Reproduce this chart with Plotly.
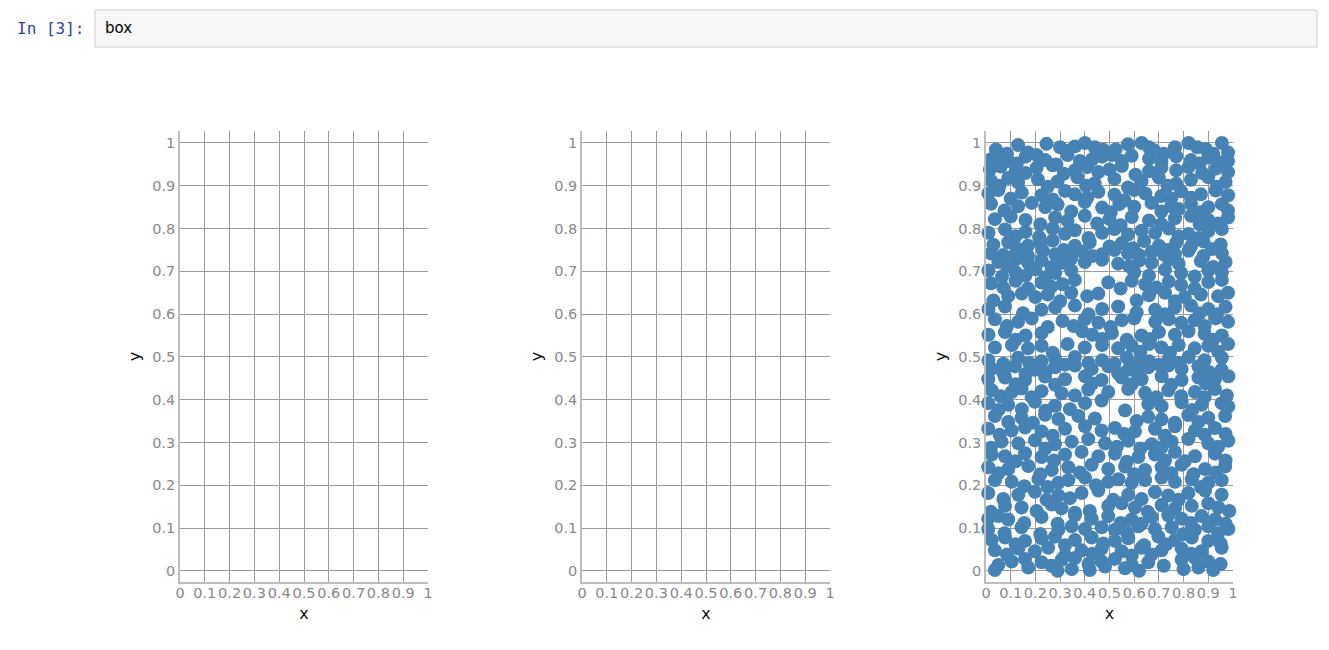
import plotly.graph_objects as go

bg_color = "#FFFFFF"
grid_color = "#9A9A9A"
axis_color = "#BDBDBD"
tick_color = "#888888"
dot_color = "#4682B4"

# page is drawn inside the default 8px body margin
fig_w = 1313
fig_h = 634

tick_vals = [0, 0.1, 0.2, 0.3, 0.4, 0.5, 0.6, 0.7, 0.8, 0.9, 1]
tick_text = ["0", "0.1", "0.2", "0.3", "0.4", "0.5", "0.6", "0.7", "0.8", "0.9", "1"]

# points of the third panel
points = [
    (.04, .985), (.13, .995), (.17, .978), (.245, .998), (.30, .99), (.33, .982), (.36, .992), (.40, 1.0), (.475, .984),
    (.575, .997), (.63, 1.0), (.66, .99), (.68, .983), (.765, .99), (.82, 1.0), (.89, .986), (.955, 1.0), (.98, .978),
    (.02, .962), (.05, .97), (.09, .958), (.16, .968), (.24, .96), (.33, .972), (.43, .962), (.47, .968), (.55, .958),
    (.59, .97), (.66, .963), (.71, .957), (.77, .969), (.83, .96), (.90, .966), (.95, .955),
    (.016, .938), (.06, .945), (.12, .935), (.205, .942), (.27, .948), (.36, .936), (.41, .944), (.50, .938),
    (.55, .946), (.66, .934), (.71, .942), (.77, .936), (.82, .944), (.93, .94), (.98, .932),
    (.02, .912), (.09, .918), (.13, .908), (.21, .915), (.29, .91), (.37, .92), (.44, .906), (.52, .916),
    (.63, .911), (.70, .919), (.77, .905), (.83, .914), (.90, .92), (.97, .909),
    (.01, .882), (.05, .89), (.145, .884), (.225, .878), (.32, .888), (.36, .88), (.455, .886), (.52, .879),
    (.60, .89), (.645, .882), (.71, .876), (.79, .887), (.87, .88), (.93, .889), (.98, .878),
    (.02, .858), (.13, .852), (.185, .86), (.24, .85), (.29, .856), (.40, .862), (.47, .849), (.54, .857),
    (.60, .851), (.67, .86), (.75, .852), (.78, .846), (.83, .858), (.90, .85), (.955, .857),
    (.036, .822), (.10, .828), (.16, .82), (.28, .826), (.33, .818), (.40, .83), (.50, .822), (.59, .827),
    (.66, .819), (.765, .824), (.83, .83), (.90, .82), (.98, .826),
    (.01, .79), (.077, .798), (.16, .792), (.27, .8), (.32, .788), (.36, .796), (.47, .79), (.52, .799),
    (.575, .786), (.63, .795), (.685, .79), (.74, .8), (.82, .787), (.90, .794), (.955, .799),
    (.03, .762), (.09, .768), (.17, .76), (.22, .766), (.27, .772), (.36, .76), (.42, .768), (.50, .758),
    (.55, .766), (.64, .771), (.70, .76), (.77, .767), (.83, .758), (.88, .77), (.95, .763),
    (.02, .742), (.23, .748), (.28, .74), (.39, .746), (.47, .74), (.52, .75), (.575, .742), (.67, .745),
    (.765, .74), (.82, .748), (.955, .742),
    (.05, .722), (.12, .728), (.17, .72), (.225, .726), (.31, .72), (.345, .73), (.40, .722), (.47, .727),
    (.535, .718), (.62, .725), (.67, .72), (.74, .728), (.78, .718), (.87, .724), (.97, .722),
    (.01, .702), (.12, .698), (.20, .705), (.28, .696), (.345, .702), (.60, .698), (.725, .704), (.79, .696),
    (.90, .702), (.955, .697),
    (.02, .672), (.12, .678), (.225, .674), (.31, .67), (.36, .68), (.495, .674), (.59, .678), (.645, .67),
    (.74, .676), (.79, .668), (.90, .675), (.955, .68),
    (.09, .642), (.145, .648), (.20, .64), (.25, .646), (.345, .65), (.41, .642), (.455, .648), (.66, .644),
    (.725, .65), (.805, .64), (.87, .646), (.94, .642), (.98, .65),
    (.01, .612), (.077, .618), (.225, .61), (.28, .616), (.36, .62), (.47, .612), (.535, .618), (.685, .61),
    (.765, .616), (.83, .62), (.90, .612), (.97, .617),
    (.036, .588), (.13, .582), (.185, .59), (.31, .584), (.40, .588), (.455, .58), (.55, .586), (.60, .59),
    (.685, .582), (.74, .588), (.79, .58), (.845, .586), (.93, .59), (.98, .582),
    (.01, .552), (.077, .558), (.16, .55), (.225, .556), (.39, .56), (.43, .552), (.51, .556), (.63, .55),
    (.70, .558), (.765, .552), (.82, .56), (.885, .554), (.955, .55),
    (.036, .522), (.105, .528), (.17, .52), (.225, .526), (.33, .53), (.40, .522), (.47, .528), (.535, .52),
    (.59, .526), (.66, .53), (.71, .522), (.78, .528), (.845, .52), (.90, .526), (.98, .53),
    (.01, .492), (.13, .498), (.225, .49), (.28, .496), (.36, .5), (.47, .492), (.57, .498), (.66, .49),
    (.74, .496), (.82, .5), (.885, .492), (.955, .498),
    (.023, .472), (.117, .478), (.198, .47), (.279, .476), (.36, .48), (.428, .472), (.495, .478), (.576, .47),
    (.657, .476), (.738, .48), (.792, .472), (.86, .478), (.954, .47),
    (.009, .448), (.077, .452), (.158, .446), (.239, .454), (.32, .448), (.401, .455), (.468, .446), (.549, .452),
    (.63, .448), (.711, .455), (.792, .446), (.86, .452), (.927, .448), (.981, .455),
    (.023, .422), (.104, .418), (.144, .426), (.225, .42), (.306, .415), (.414, .424), (.495, .418), (.576, .425),
    (.644, .416), (.738, .422), (.846, .418), (.927, .425),
    (.009, .392), (.09, .388), (.198, .395), (.279, .386), (.401, .392), (.468, .398), (.563, .375), (.657, .39),
    (.711, .385), (.792, .394), (.873, .388), (.954, .392), (.981, .384),
    (.036, .362), (.144, .358), (.239, .365), (.293, .355), (.374, .362), (.441, .356), (.657, .36), (.711, .354),
    (.819, .364), (.90, .358), (.968, .362),
    (.009, .332), (.104, .328), (.158, .335), (.225, .326), (.32, .332), (.401, .338), (.468, .328), (.522, .334),
    (.603, .326), (.684, .332), (.765, .338), (.846, .328), (.927, .334),
    (.063, .302), (.131, .298), (.198, .305), (.279, .296), (.347, .302), (.414, .308), (.482, .298), (.576, .304),
    (.671, .296), (.752, .302), (.819, .308), (.90, .298), (.981, .304),
    (.023, .272), (.077, .268), (.158, .275), (.225, .266), (.32, .272), (.387, .278), (.455, .268), (.522, .274),
    (.617, .266), (.684, .272), (.765, .278), (.846, .268), (.927, .274),
    (.009, .242), (.09, .238), (.171, .245), (.266, .236), (.333, .242), (.428, .248), (.495, .238), (.563, .244),
    (.644, .236), (.711, .242), (.792, .248), (.887, .238), (.968, .244),
    (.036, .212), (.104, .208), (.212, .215), (.293, .206), (.333, .212), (.401, .218), (.495, .208), (.536, .214),
    (.59, .206), (.644, .212), (.711, .218), (.765, .208), (.833, .214), (.90, .206), (.954, .212),
    (.009, .182), (.131, .178), (.198, .185), (.293, .176), (.387, .182), (.455, .188), (.576, .178), (.684, .184),
    (.738, .176), (.819, .182), (.887, .188), (.954, .178),
    (.077, .152), (.144, .148), (.266, .155), (.306, .146), (.495, .152), (.549, .158), (.603, .148), (.711, .154),
    (.765, .146), (.833, .152), (.90, .158), (.941, .148),
    (.009, .122), (.05, .128), (.09, .12), (.225, .126), (.36, .13), (.428, .122), (.495, .128), (.59, .12),
    (.671, .126), (.738, .13), (.792, .122), (.873, .128), (.927, .12),
    (.009, .098), (.144, .102), (.293, .096), (.347, .104), (.401, .098), (.468, .102), (.522, .096), (.617, .104),
    (.684, .098), (.752, .102), (.846, .096), (.90, .104), (.981, .098),
    (.023, .072), (.077, .078), (.158, .07), (.225, .076), (.279, .08), (.36, .072), (.428, .078), (.522, .07),
    (.576, .076), (.698, .08), (.765, .072), (.833, .078), (.90, .07),
    (.036, .048), (.131, .052), (.198, .046), (.252, .054), (.387, .048), (.468, .052), (.549, .046), (.63, .054),
    (.711, .048), (.792, .052), (.873, .046), (.954, .054),
    (.104, .022), (.158, .028), (.225, .02), (.306, .026), (.36, .03), (.468, .022), (.522, .028), (.657, .02),
    (.792, .026), (.846, .03), (.90, .022),
    (.036, .002), (.171, .008), (.347, .004), (.482, .01), (.563, .006), (.86, .008),
]

# further points that sit in the gaps between the rows above
points_fill = [
    (.085, .975), (.205, .972), (.44, .99), (.525, .985), (.72, .975), (.855, .99), (.92, .975),
    (.125, .952), (.285, .95), (.38, .958), (.51, .972), (.865, .952), (.98, .958),
    (.16, .93), (.315, .928), (.455, .932), (.605, .926), (.875, .93),
    (.055, .9), (.25, .898), (.405, .9), (.575, .896), (.735, .9), (.935, .898),
    (.10, .87), (.27, .868), (.41, .872), (.56, .866), (.75, .87), (.83, .872),
    (.075, .842), (.345, .84), (.505, .838), (.71, .84), (.865, .838), (.98, .842),
    (.22, .81), (.45, .812), (.545, .808), (.71, .81), (.865, .81), (.94, .812),
    (.12, .782), (.215, .78), (.415, .778), (.78, .782), (.86, .778),
    (.13, .752), (.315, .75), (.595, .754), (.735, .75), (.915, .752),
    (.07, .738), (.12, .742), (.17, .736), (.335, .74), (.43, .736), (.62, .738), (.72, .74), (.88, .736),
    (.085, .712), (.265, .71), (.58, .712), (.92, .71),
    (.065, .688), (.16, .69), (.24, .686), (.66, .69), (.845, .688),
    (.07, .662), (.17, .66), (.265, .664), (.545, .66), (.69, .662), (.845, .66),
    (.03, .632), (.30, .63), (.61, .632), (.765, .63),
    (.15, .602), (.415, .6), (.61, .604), (.725, .6), (.865, .602), (.935, .6),
    (.085, .572), (.25, .57), (.355, .572), (.505, .57), (.885, .572),
    (.12, .54), (.47, .542), (.57, .54), (.665, .542), (.92, .54),
    (.27, .51), (.625, .512), (.745, .51), (.94, .512),
    (.07, .484), (.175, .486), (.32, .482), (.415, .486), (.52, .484), (.615, .486), (.70, .482), (.78, .486),
    (.07, .462), (.16, .46), (.24, .464), (.535, .462), (.615, .46), (.905, .464),
    (.12, .436), (.28, .435), (.43, .438), (.59, .436), (.75, .435), (.89, .438),
    (.06, .408), (.185, .406), (.36, .41), (.69, .406), (.79, .408), (.885, .406), (.975, .41),
    (.05, .376), (.145, .378), (.24, .374), (.34, .378), (.835, .376),
    (.09, .348), (.19, .346), (.61, .35), (.765, .346), (.86, .348),
    (.055, .318), (.27, .316), (.56, .32), (.725, .316), (.885, .318), (.97, .32),
    (.02, .288), (.24, .286), (.53, .29), (.625, .286), (.71, .288), (.94, .29),
    (.12, .256), (.275, .258), (.57, .255), (.725, .258), (.805, .256), (.97, .258),
    (.05, .228), (.22, .226), (.38, .23), (.60, .226), (.75, .228), (.84, .226), (.93, .23),
    (.155, .198), (.25, .196), (.445, .2), (.87, .196),
    (.07, .168), (.245, .166), (.34, .17), (.515, .166), (.63, .168), (.78, .166),
    (.02, .138), (.205, .14), (.36, .136), (.42, .14), (.655, .138), (.985, .14),
    (.155, .112), (.29, .11), (.545, .112), (.63, .11), (.83, .112), (.97, .11),
    (.075, .088), (.22, .086), (.57, .09), (.80, .086), (.94, .088),
    (.12, .062), (.32, .06), (.475, .064), (.64, .06), (.73, .062), (.95, .064),
    (.085, .038), (.32, .036), (.43, .04), (.59, .036), (.67, .038), (.83, .04),
    (.05, .014), (.265, .012), (.415, .016), (.59, .014), (.72, .012), (.95, .016),
    (.29, .0), (.42, .002), (.62, .0), (.80, .004), (.92, .002),
]

scatter_x = [p[0] for p in points + points_fill]
scatter_y = [p[1] for p in points + points_fill]

# panel domains, in page pixels (left, right)
panels = [(180, 428), (582, 830), (986, 1233)]
panel_top = 131
panel_bottom = 582


def px_x(px):
    return (px - 8) / fig_w


def px_y(py):
    return 1 - (py - 8) / fig_h


def x_axis(domain, anchor):
    return dict(
        domain=domain,
        anchor=anchor,
        range=[0, 1],
        tickvals=tick_vals,
        ticktext=tick_text,
        tickangle=0,
        ticks="",
        ticklabelstandoff=-3,
        showgrid=True,
        gridcolor=grid_color,
        gridwidth=1,
        zeroline=False,
        showline=True,
        linecolor=axis_color,
        linewidth=1.5,
        tickfont=dict(color=tick_color, size=14.5),
        title=dict(text="x", standoff=8, font=dict(color="#111111", size=16)),
        automargin=False,
        fixedrange=True,
    )


def y_axis(anchor):
    return dict(
        domain=[px_y(panel_bottom), px_y(panel_top)],
        anchor=anchor,
        range=[-0.026, 1.028],
        tickvals=tick_vals,
        ticktext=tick_text,
        ticks="",
        showgrid=True,
        gridcolor=grid_color,
        gridwidth=1,
        zeroline=False,
        showline=True,
        linecolor=axis_color,
        linewidth=1.5,
        tickfont=dict(color=tick_color, size=14.5),
        title=dict(text="y", standoff=8, font=dict(color="#111111", size=16)),
        automargin=False,
        fixedrange=True,
    )


fig = go.Figure()

for i in range(3):
    suffix = "" if i == 0 else str(i + 1)
    xs = scatter_x if i == 2 else []
    ys = scatter_y if i == 2 else []
    fig.add_trace(
        go.Scatter(
            x=xs,
            y=ys,
            mode="markers",
            marker=dict(color=dot_color, size=14, line=dict(width=0)),
            cliponaxis=False,
            hoverinfo="x+y",
            showlegend=False,
            xaxis="x" + suffix,
            yaxis="y" + suffix,
        )
    )

layout_axes = {}
for i, (left, right) in enumerate(panels):
    suffix = "" if i == 0 else str(i + 1)
    layout_axes["xaxis" + suffix] = x_axis([px_x(left), px_x(right)], "y" + suffix)
    layout_axes["yaxis" + suffix] = y_axis("x" + suffix)

fig.update_layout(
    width=fig_w,
    height=fig_h,
    autosize=False,
    margin=dict(t=0, b=0, l=0, r=0),
    paper_bgcolor=bg_color,
    plot_bgcolor=bg_color,
    font=dict(family="DejaVu Sans", size=14, color="#111111"),
    showlegend=False,
    **layout_axes,
)

# notebook cell header above the widget
fig.add_shape(
    type="rect",
    xref="paper",
    yref="paper",
    x0=px_x(95),
    x1=px_x(1317),
    y0=px_y(47),
    y1=px_y(10),
    fillcolor="#F7F7F7",
    line=dict(color="#CFCFCF", width=1),
    layer="below",
)
fig.add_annotation(
    text="In [3]:",
    xref="paper",
    yref="paper",
    x=px_x(86),
    y=px_y(28),
    xanchor="right",
    yanchor="middle",
    showarrow=False,
    font=dict(family="DejaVu Sans Mono", size=16, color="#303F9F"),
)
fig.add_annotation(
    text="box",
    xref="paper",
    yref="paper",
    x=px_x(103),
    y=px_y(28),
    xanchor="left",
    yanchor="middle",
    showarrow=False,
    font=dict(family="DejaVu Sans", size=15, color="#000000"),
)

fig.write_html("out.html")
